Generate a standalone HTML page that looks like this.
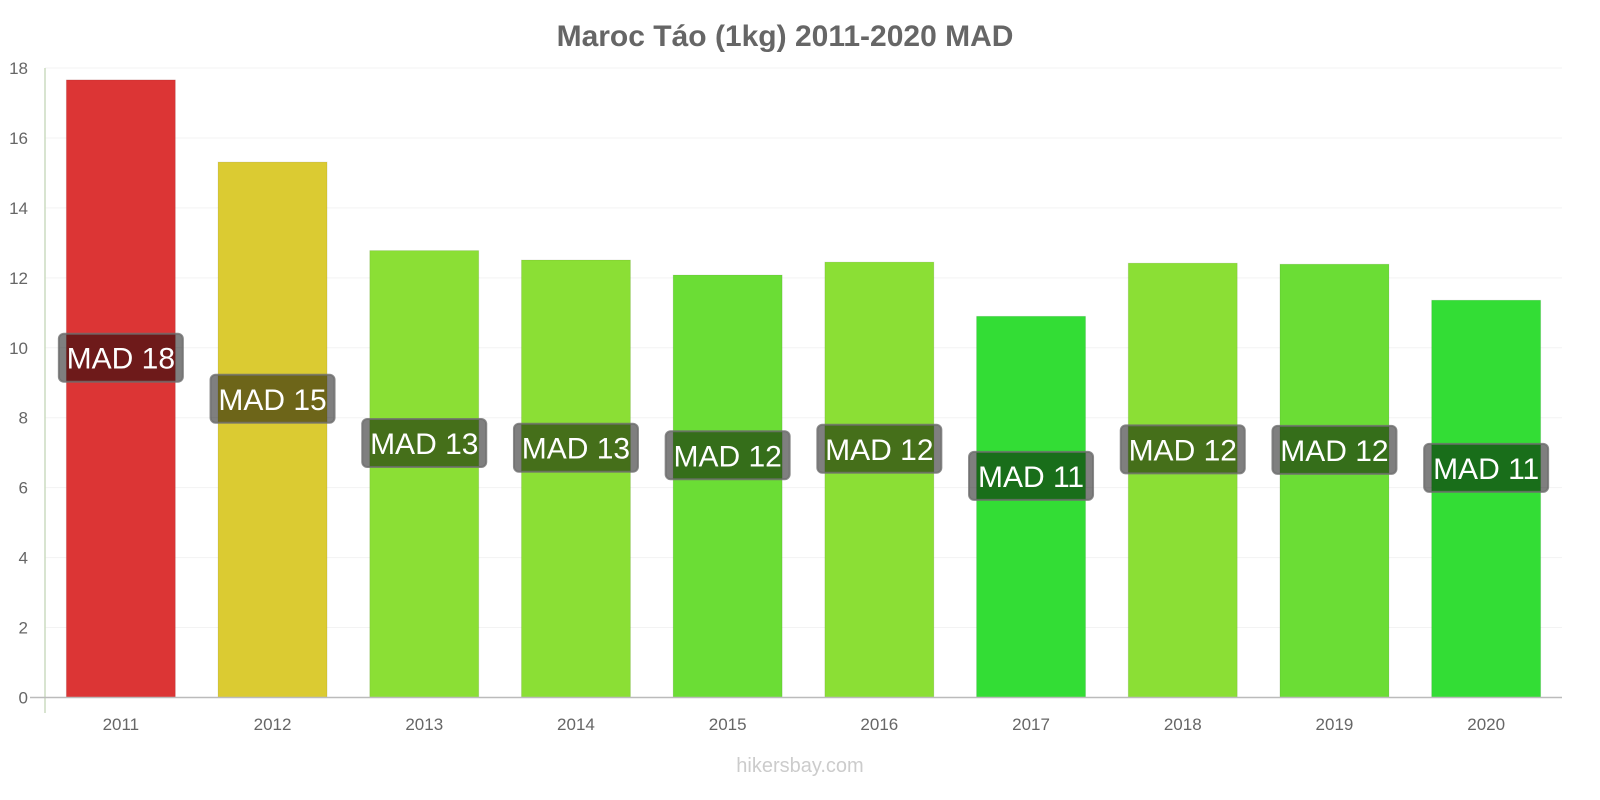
<!DOCTYPE html>
<html><head><meta charset="utf-8"><style>
html,body{margin:0;padding:0;background:#fff;overflow:hidden;width:1600px;height:800px;font-family:"Liberation Sans",sans-serif}
svg{display:block}
svg text{font-family:"Liberation Sans",sans-serif}
</style></head><body>
<svg id="chart" width="1600" height="800">
<text x="785" y="46" text-anchor="middle" font-size="30" font-weight="bold" fill="#666">Maroc Táo (1kg) 2011-2020 MAD</text>
<g id="grid"></g><g id="bars"></g><g id="labels"></g>
<line x1="45" y1="68" x2="45" y2="713" stroke="#ccdcc0" stroke-width="1.5"/>
<line x1="30" y1="697.5" x2="1562" y2="697.5" stroke="#bbb" stroke-width="1.5"/>
<text x="800" y="772" text-anchor="middle" font-size="20" fill="#ccc">hikersbay.com</text>
</svg>
<script>
const categories=["2011","2012","2013","2014","2015","2016","2017","2018","2019","2020"];
const values=[17.66,15.31,12.78,12.51,12.08,12.45,10.9,12.42,12.39,11.36];
const valueLabels=["MAD 18","MAD 15","MAD 13","MAD 13","MAD 12","MAD 12","MAD 11","MAD 12","MAD 12","MAD 11"];
const barColors=["#dc3535","#dbcb32","#8bdf35","#8bdf35","#6bdd35","#8bdf35","#33dd35","#8bdf35","#6bdd35","#33dd35"];
const yTicks=[0,2,4,6,8,10,12,14,16,18];
const NS="http://www.w3.org/2000/svg";
const y0=697.5,yTop=68,yMax=18,xL=45,xR=1562;
const y=v=>y0-(v/yMax)*(y0-yTop);
const band=(xR-xL)/categories.length;
const xc=i=>xL+band*(i+0.5);
function mk(t,a,p){const e=document.createElementNS(NS,t);for(const k in a)e.setAttribute(k,a[k]);p.appendChild(e);return e;}
const g=document.getElementById('grid'),b=document.getElementById('bars'),l=document.getElementById('labels');
yTicks.forEach(t=>{
 const ln=mk('line',{x1:xL,x2:xR,y1:y(t),y2:y(t),stroke:'#f3f3f3'},g);
 
 
 const tx=mk('text',{x:28,y:y(t)+6,'text-anchor':'end','font-size':17,fill:'#666'},g);
 tx.textContent=t;
 
 
});
categories.forEach((c,i)=>{
 const w=109,top=y(values[i]);
 const r=mk('rect',{x:xc(i)-w/2,y:top,width:w,height:y0-top,fill:barColors[i],stroke:'rgba(0,0,0,0.08)'},b);
 
 
 const tx=mk('text',{x:xc(i),y:730,'text-anchor':'middle','font-size':17,fill:'#666'},b);
 tx.textContent=c;
 
 
 const cy=(top+y0)/2-31;
 const bg=mk('rect',{x:xc(i)-62,y:cy-24,width:124,height:48,rx:5,fill:'rgba(0,0,0,0.5)',stroke:'rgba(110,110,110,0.8)','stroke-width':2},l);
 
 
 const vt=mk('text',{x:xc(i),y:cy+11,'text-anchor':'middle','font-size':30,fill:'#fff'},l);
 vt.textContent=valueLabels[i];
 
 
});
</script>
</body></html>
